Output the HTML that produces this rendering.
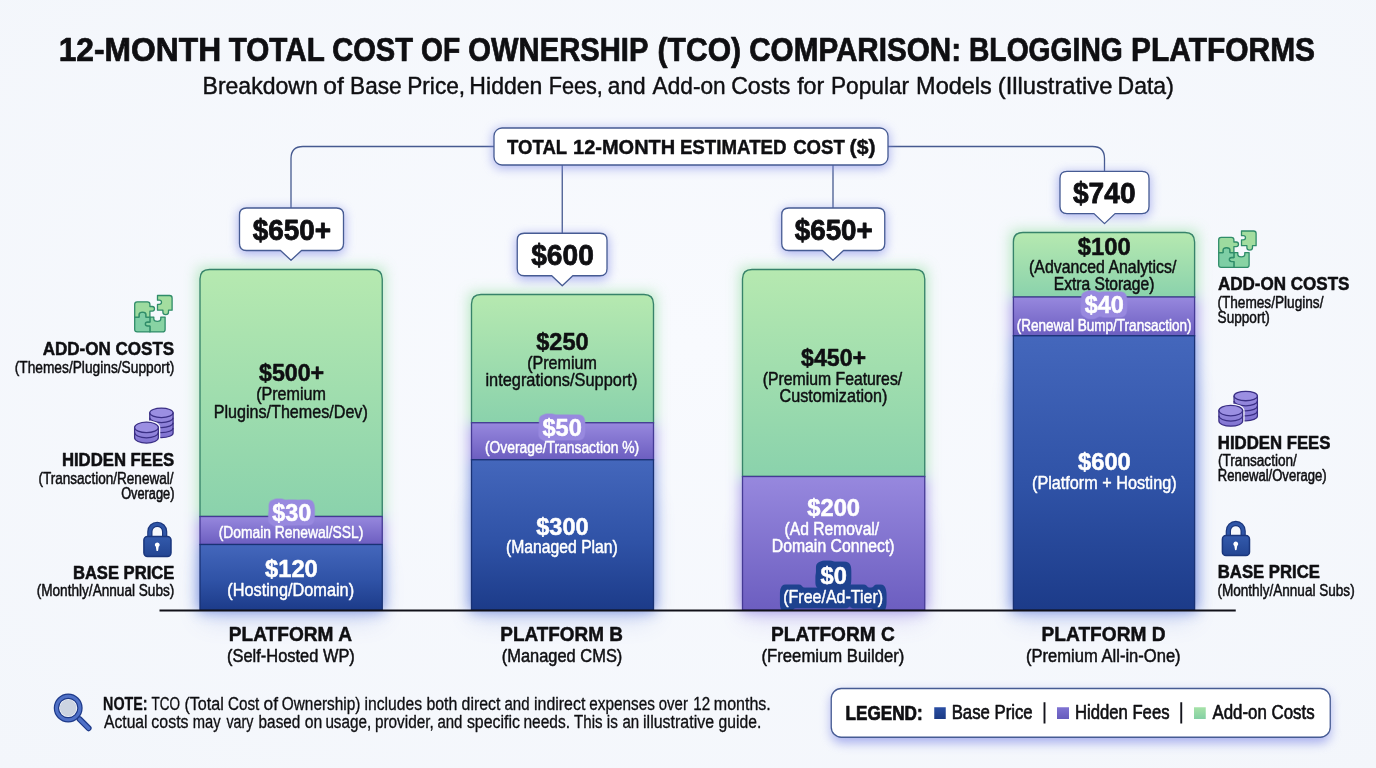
<!DOCTYPE html>
<html lang="en">
<head>
<meta charset="utf-8">
<title>12-Month Total Cost of Ownership (TCO) Comparison: Blogging Platforms</title>
<style>
html,body{margin:0;padding:0;background:#f5f7fb;}
body{width:1376px;height:768px;overflow:hidden;font-family:"Liberation Sans", sans-serif;}
svg{display:block;}
svg text{font-family:"Liberation Sans", sans-serif;white-space:pre;}
</style>
</head>
<body>
<svg width="1376" height="768" viewBox="0 0 1376 768">
<defs>
  <linearGradient id="gGreen" x1="0" y1="0" x2="0" y2="1">
    <stop offset="0" stop-color="#b6e9b0"/>
    <stop offset="1" stop-color="#8ad2ac"/>
  </linearGradient>
  <linearGradient id="gPurple" x1="0" y1="0" x2="0" y2="1">
    <stop offset="0" stop-color="#9788de"/>
    <stop offset="1" stop-color="#6c5ec0"/>
  </linearGradient>
  <linearGradient id="gBlue" x1="0" y1="0" x2="0" y2="1">
    <stop offset="0" stop-color="#4467bc"/>
    <stop offset="0.55" stop-color="#2f52a6"/>
    <stop offset="1" stop-color="#1c3b89"/>
  </linearGradient>
  <linearGradient id="gCoin" x1="0" y1="0" x2="0" y2="1">
    <stop offset="0" stop-color="#9a8ee0"/>
    <stop offset="1" stop-color="#7f72d0"/>
  </linearGradient>
  <linearGradient id="gLock" x1="0" y1="0" x2="0" y2="1">
    <stop offset="0" stop-color="#335aac"/>
    <stop offset="1" stop-color="#234592"/>
  </linearGradient>
  <linearGradient id="gSwB" x1="0" y1="0" x2="0" y2="1">
    <stop offset="0" stop-color="#2a4ea3"/><stop offset="1" stop-color="#1b3a84"/>
  </linearGradient>
  <linearGradient id="gSwP" x1="0" y1="0" x2="0" y2="1">
    <stop offset="0" stop-color="#7f73d2"/><stop offset="1" stop-color="#665bbc"/>
  </linearGradient>
  <linearGradient id="gSwG" x1="0" y1="0" x2="0" y2="1">
    <stop offset="0" stop-color="#a6e2a8"/><stop offset="1" stop-color="#84cfa4"/>
  </linearGradient>
  <radialGradient id="gBg" cx="0.5" cy="0.45" r="0.75">
    <stop offset="0" stop-color="#f8fafe"/>
    <stop offset="1" stop-color="#f3f6fb"/>
  </radialGradient>
  <clipPath id="clipC"><rect x="743" y="477" width="181.2" height="133.3"/></clipPath>
  <filter id="fGlow" x="-30%" y="-30%" width="160%" height="160%">
    <feGaussianBlur stdDeviation="7"/>
  </filter>
  <filter id="haloP" x="-30%" y="-40%" width="160%" height="180%" color-interpolation-filters="sRGB">
    <feMorphology in="SourceAlpha" operator="dilate" radius="3.6" result="d"/>
    <feGaussianBlur in="d" stdDeviation="1.6" result="b"/>
    <feComponentTransfer in="b" result="a"><feFuncA type="linear" slope="2.6" intercept="-0.7"/></feComponentTransfer>
    <feFlood flood-color="#9889df"/>
    <feComposite in2="a" operator="in" result="h"/>
    <feMerge><feMergeNode in="h"/><feMergeNode in="SourceGraphic"/></feMerge>
  </filter>
  <filter id="haloN" x="-30%" y="-50%" width="160%" height="200%" color-interpolation-filters="sRGB">
    <feMorphology in="SourceAlpha" operator="dilate" radius="4.6" result="d"/>
    <feGaussianBlur in="d" stdDeviation="1.5" result="b"/>
    <feComponentTransfer in="b" result="a"><feFuncA type="linear" slope="4" intercept="-1.3"/></feComponentTransfer>
    <feFlood flood-color="#1e428f"/>
    <feComposite in2="a" operator="in" result="h"/>
    <feMerge><feMergeNode in="h"/><feMergeNode in="SourceGraphic"/></feMerge>
  </filter>
  <filter id="fGlowWide" x="-40%" y="-40%" width="180%" height="180%">
    <feGaussianBlur stdDeviation="13"/>
  </filter>
  <filter id="fShadow" x="-30%" y="-60%" width="160%" height="240%">
    <feGaussianBlur stdDeviation="5.5"/>
  </filter>

  <!-- puzzle icon, local box 0..39 x 0..38 -->
  <g id="icoPuzzle" stroke="#2f8c69" stroke-width="1.3" stroke-linejoin="round">
    <!-- bottom-right -->
    <path fill="#88d3a3" d="M15.9 22.6 H19.8 V24.2 C19.8 25.8 21.2 26.8 23.3 26.8 C25.4 26.8 26.8 25.8 26.8 24.2 V22.6 H31.1 V34.9 Q31.1 37.4 28.6 37.4 H15.9 V31.7 H13.6 C12.2 31.7 11.3 30.8 11.3 29.6 C11.3 28.4 12.2 27.5 13.6 27.5 H15.9 Z"/>
    <!-- bottom-left -->
    <path fill="#7ecea5" d="M0.7 22.6 H5 V20 C5 18.5 6.4 17.6 8.5 17.6 C10.6 17.6 12 18.5 12 20 V22.6 H15.9 V27.5 H13.6 C12.2 27.5 11.3 28.4 11.3 29.6 C11.3 30.8 12.2 31.7 13.6 31.7 H15.9 V37.4 H3.2 Q0.7 37.4 0.7 34.9 Z"/>
    <!-- top-left -->
    <path fill="#9ddb9f" d="M3.2 7.3 H13.4 Q15.9 7.3 15.9 9.8 V12 H18.2 C19.6 12 20.5 13 20.5 14.3 C20.5 15.6 19.6 16.6 18.2 16.6 H15.9 V22.6 H12 V20 C12 18.5 10.6 17.6 8.5 17.6 C6.4 17.6 5 18.5 5 20 V22.6 H0.7 V9.8 Q0.7 7.3 3.2 7.3 Z"/>
    <!-- top-right (separate) -->
    <path fill="#a3dd9f" d="M23.5 1 H35.6 Q38.1 1 38.1 3.5 V15.7 H34.5 V17.8 C34.5 19.2 33.4 20.1 31.7 20.1 C30 20.1 28.9 19.2 28.9 17.8 V15.7 H23.5 V9.9 H25.2 C26.6 9.9 27.5 9 27.5 7.8 C27.5 6.6 26.6 5.7 25.2 5.7 H23.5 Z"/>
  </g>

  <!-- coins icon, local box 0..40 x 0..37 ; origin = (134.25,407.25) -->
  <g id="icoCoins" stroke="#3a2f85" stroke-width="1.3" stroke-linejoin="round">
    <!-- back stack -->
    <path fill="url(#gCoin)" d="M15.7 5.1 V25.9 A12.1 4.9 0 0 0 39.9 25.9 V5.1 Z"/>
    <path fill="none" d="M15.7 10.3 A12.1 4.9 0 0 0 39.9 10.3 M15.7 15.5 A12.1 4.9 0 0 0 39.9 15.5 M15.7 20.7 A12.1 4.9 0 0 0 39.9 20.7"/>
    <ellipse cx="27.8" cy="5.1" rx="12.1" ry="4.9" fill="#9b8fe2"/>
    <!-- front stack with light separation halo -->
    <path fill="#f5f7fb" stroke="#f5f7fb" stroke-width="4" d="M0 20.2 V31 A12.3 5.4 0 0 0 24.6 31 V20.2 A12.3 5.4 0 0 0 0 20.2 Z"/>
    <path fill="url(#gCoin)" d="M0 20.2 V31 A12.3 5.4 0 0 0 24.6 31 V20.2 Z"/>
    <path fill="none" d="M0 25.6 A12.3 5.4 0 0 0 24.6 25.6"/>
    <ellipse cx="12.3" cy="20.2" rx="12.3" ry="5.4" fill="#9b8fe2"/>
  </g>

  <!-- lock icon, origin=(143,521.5) ; box 0..28.7 x 0..35.5 -->
  <g id="icoLock">
    <path d="M6.85 15.5 V10.2 A7.4 7.4 0 0 1 21.65 10.2 V15.5" fill="none" stroke="#1a367c" stroke-width="5.3" stroke-linecap="butt"/>
    <path d="M6.85 15.5 V10.2 A7.4 7.4 0 0 1 21.65 10.2 V15.5" fill="none" stroke="#2f55a6" stroke-width="3.0" stroke-linecap="butt"/>
    <rect x="0.9" y="14.9" width="27.1" height="20" rx="3.6" fill="url(#gLock)" stroke="#1a367c" stroke-width="1.5"/>
    <path d="M14.27 20.9 a2.45 2.45 0 0 1 1.4 4.45 l-0.5 3.3 a0.9 0.9 0 0 1 -1.8 0 l-0.5 -3.3 a2.45 2.45 0 0 1 1.4 -4.45 Z" fill="#ffffff"/>
  </g>

  <!-- magnifier icon, origin=(53,693) -->
  <g id="icoMag">
    <path d="M26.6 26.2 L35.6 35.2" stroke="#1e3a8a" stroke-width="6.0" stroke-linecap="round" fill="none"/>
    <path d="M26.6 26.2 L35.6 35.2" stroke="#4f70c6" stroke-width="3.5" stroke-linecap="round" fill="none"/>
    <circle cx="15.2" cy="15" r="11.75" fill="#ffffff" stroke="#1e3a8a" stroke-width="5.4"/>
    <circle cx="15.2" cy="15" r="11.75" fill="none" stroke="#4f70c6" stroke-width="3.0"/>
    <circle cx="15.2" cy="15" r="8.4" fill="#ccd4e1"/>
  </g>
</defs>

<rect width="1376" height="768" fill="url(#gBg)"/>

<!-- ===== connectors ===== -->
<g fill="none" stroke="#465a90" stroke-width="1.3">
  <path d="M291 208 V158.5 Q291 146.5 303 146.5 H494"/>
  <path d="M888 146.5 H1092.5 Q1104.5 146.5 1104.5 158.5 V171.4"/>
  <path d="M562.25 165 V233.5"/>
  <path d="M833 165 V208"/>
</g>

<!-- ===== bar glows ===== -->
<g filter="url(#fGlow)" opacity="0.75">
  <rect x="198" y="268" width="186" height="249" fill="#9be0a8"/>
  <rect x="198" y="517" width="186" height="27" fill="#8c7be0"/>
  <rect x="198" y="544" width="186" height="67" fill="#5a78d8"/>

  <rect x="469.5" y="293" width="186" height="130" fill="#9be0a8"/>
  <rect x="469.5" y="423" width="186" height="37" fill="#8c7be0"/>
  <rect x="469.5" y="460" width="186" height="151" fill="#5a78d8"/>

  <rect x="740.5" y="268" width="186" height="209" fill="#9be0a8"/>
  <rect x="740.5" y="477" width="186" height="134" fill="#8c7be0"/>

  <rect x="1011" y="231" width="186.5" height="66" fill="#9be0a8"/>
  <rect x="1011" y="297" width="186.5" height="39" fill="#8c7be0"/>
  <rect x="1011" y="336" width="186.5" height="275" fill="#5a78d8"/>
</g>

<g filter="url(#fGlowWide)" opacity="0.30">
  <rect x="204" y="560" width="174" height="58" fill="#6a82dc"/>
  <rect x="475.5" y="500" width="174" height="118" fill="#6a82dc"/>
  <rect x="746.5" y="520" width="174" height="98" fill="#8c7be0"/>
  <rect x="1017.4" y="380" width="173" height="238" fill="#6a82dc"/>
</g>
<!-- ===== bars ===== -->
<!-- A -->
<g>
  <path d="M200 516.5 V279 Q200 269.5 209.5 269.5 H372.75 Q382.25 269.5 382.25 279 V516.5 Z" fill="url(#gGreen)" stroke="#37836a" stroke-width="1.35"/>
  <rect x="200" y="516.5" width="182.25" height="28" fill="url(#gPurple)" stroke="#453a95" stroke-width="1.3"/>
  <rect x="200" y="544.5" width="182.25" height="65.75" fill="url(#gBlue)" stroke="#193274" stroke-width="1.3"/>
</g>
<!-- B -->
<g>
  <path d="M471.5 422.75 V304 Q471.5 294.5 481 294.5 H644 Q653.5 294.5 653.5 304 V422.75 Z" fill="url(#gGreen)" stroke="#37836a" stroke-width="1.35"/>
  <rect x="471.5" y="422.75" width="182" height="37" fill="url(#gPurple)" stroke="#453a95" stroke-width="1.3"/>
  <rect x="471.5" y="459.75" width="182" height="150.5" fill="url(#gBlue)" stroke="#193274" stroke-width="1.3"/>
</g>
<!-- C -->
<g>
  <path d="M742.5 476.5 V279 Q742.5 269.5 752 269.5 H915.25 Q924.75 269.5 924.75 279 V476.5 Z" fill="url(#gGreen)" stroke="#37836a" stroke-width="1.35"/>
  <rect x="742.5" y="476.5" width="182.25" height="133.75" fill="url(#gPurple)" stroke="#453a95" stroke-width="1.3"/>
</g>
<!-- D -->
<g>
  <path d="M1013.4 297 V242 Q1013.4 232.5 1022.9 232.5 H1185.1 Q1194.6 232.5 1194.6 242 V297 Z" fill="url(#gGreen)" stroke="#37836a" stroke-width="1.35"/>
  <rect x="1013.4" y="297" width="181.2" height="38.75" fill="url(#gPurple)" stroke="#453a95" stroke-width="1.3"/>
  <rect x="1013.4" y="335.75" width="181.2" height="274.5" fill="url(#gBlue)" stroke="#193274" stroke-width="1.3"/>
</g>


<!-- ===== total box + callouts ===== -->
<g filter="url(#fShadow)" opacity="0.66" fill="#8089e6">
  <rect x="493" y="129" width="396" height="39" rx="8"/>
  <rect x="238.5" y="209" width="106" height="45" rx="7"/>
  <rect x="516.25" y="234.5" width="92" height="45" rx="7"/>
  <rect x="780.75" y="209" width="105" height="45" rx="7"/>
  <rect x="1058.5" y="172.5" width="91.5" height="44" rx="7"/>
  <rect x="831.25" y="692" width="499" height="51" rx="10"/>
</g>
<g fill="#ffffff" stroke="#465b93" stroke-width="1.3" stroke-linejoin="round">
  <rect x="494" y="128" width="394" height="37" rx="8"/>
  <path d="M246.5 208 H336.5 Q343.5 208 343.5 215 V243.5 Q343.5 250.5 336.5 250.5 H301.5 L291 260.3 L280.5 250.5 H246.5 Q239.5 250.5 239.5 243.5 V215 Q239.5 208 246.5 208 Z"/>
  <path d="M524.25 233.25 H600 Q607 233.25 607 240.25 V268.75 Q607 275.75 600 275.75 H572.75 L562.25 285.75 L551.75 275.75 H524.25 Q517.25 275.75 517.25 268.75 V240.25 Q517.25 233.25 524.25 233.25 Z"/>
  <path d="M788.75 208 H877.75 Q884.75 208 884.75 215 V243.5 Q884.75 250.5 877.75 250.5 H843.5 L833 260.3 L822.5 250.5 H788.75 Q781.75 250.5 781.75 243.5 V215 Q781.75 208 788.75 208 Z"/>
  <path d="M1067 171.4 H1142 Q1149 171.4 1149 178.4 V206.6 Q1149 213.6 1142 213.6 H1115 L1104.5 223.6 L1094 213.6 H1067 Q1060 213.6 1060 206.6 V178.4 Q1060 171.4 1067 171.4 Z"/>
  <rect x="831.25" y="688.5" width="499" height="48.75" rx="10"/>
</g>

<!-- legend swatches -->
<rect x="934.25" y="707.25" width="11.5" height="11.75" fill="url(#gSwB)"/>
<rect x="1057" y="707.25" width="12" height="11.75" fill="url(#gSwP)"/>
<rect x="1194" y="707.25" width="11.75" height="11.75" fill="url(#gSwG)"/>
<path d="M1044.5 702.25 V723.5 M1181.25 702.25 V723.5" stroke="#14141c" stroke-width="1.9"/>

<!-- ===== icons ===== -->
<use href="#icoPuzzle" x="134" y="294.5"/>
<use href="#icoPuzzle" x="1218" y="230"/>
<use href="#icoCoins" transform="translate(134.6 407.9) scale(0.965)"/>
<use href="#icoCoins" transform="translate(1218.9 391.1) scale(0.965)"/>
<use href="#icoLock" x="143" y="521.5"/>
<use href="#icoLock" x="1221.5" y="520.7"/>
<use href="#icoMag" x="53" y="693"/>

<!-- ===== text ===== -->
<g>
<text y="60.80" font-size="32.6" font-weight="700" fill="#0f0f12" stroke="#0f0f12" stroke-width="0.72" stroke-linejoin="round"><tspan x="58.69" textLength="162.44" lengthAdjust="spacingAndGlyphs">12-MONTH</tspan> <tspan x="228.71" textLength="95.56" lengthAdjust="spacingAndGlyphs">TOTAL</tspan> <tspan x="332.14" textLength="80.83" lengthAdjust="spacingAndGlyphs">COST</tspan> <tspan x="421.07" textLength="39.14" lengthAdjust="spacingAndGlyphs">OF</tspan> <tspan x="468.34" textLength="179.60" lengthAdjust="spacingAndGlyphs">OWNERSHIP</tspan> <tspan x="657.55" textLength="83.50" lengthAdjust="spacingAndGlyphs">(TCO)</tspan> <tspan x="749.21" textLength="211.94" lengthAdjust="spacingAndGlyphs">COMPARISON:</tspan> <tspan x="968.96" textLength="153.87" lengthAdjust="spacingAndGlyphs">BLOGGING</tspan> <tspan x="1131.05" textLength="184.05" lengthAdjust="spacingAndGlyphs">PLATFORMS</tspan></text>
<text y="93.50" font-size="24.3" font-weight="400" fill="#0f0f12" stroke="#0f0f12" stroke-width="0.44" stroke-linejoin="round"><tspan x="202.56" textLength="115.15" lengthAdjust="spacingAndGlyphs">Breakdown</tspan> <tspan x="323.32" textLength="20.53" lengthAdjust="spacingAndGlyphs">of</tspan> <tspan x="350.09" textLength="51.54" lengthAdjust="spacingAndGlyphs">Base</tspan> <tspan x="407.18" textLength="58.01" lengthAdjust="spacingAndGlyphs">Price,</tspan> <tspan x="469.36" textLength="73.05" lengthAdjust="spacingAndGlyphs">Hidden</tspan> <tspan x="548.67" textLength="54.24" lengthAdjust="spacingAndGlyphs">Fees,</tspan> <tspan x="607.79" textLength="37.90" lengthAdjust="spacingAndGlyphs">and</tspan> <tspan x="652.60" textLength="73.09" lengthAdjust="spacingAndGlyphs">Add-on</tspan> <tspan x="731.14" textLength="59.06" lengthAdjust="spacingAndGlyphs">Costs</tspan> <tspan x="797.17" textLength="27.13" lengthAdjust="spacingAndGlyphs">for</tspan> <tspan x="830.99" textLength="78.11" lengthAdjust="spacingAndGlyphs">Popular</tspan> <tspan x="916.12" textLength="75.70" lengthAdjust="spacingAndGlyphs">Models</tspan> <tspan x="997.78" textLength="114.60" lengthAdjust="spacingAndGlyphs">(Illustrative</tspan> <tspan x="1117.56" textLength="56.28" lengthAdjust="spacingAndGlyphs">Data)</tspan></text>
<text y="153.90" font-size="21.0" font-weight="700" fill="#0f0f12" stroke="#0f0f12" stroke-width="0.46" stroke-linejoin="round"><tspan x="507.02" textLength="59.76" lengthAdjust="spacingAndGlyphs">TOTAL</tspan> <tspan x="573.10" textLength="102.14" lengthAdjust="spacingAndGlyphs">12-MONTH</tspan> <tspan x="679.88" textLength="106.71" lengthAdjust="spacingAndGlyphs">ESTIMATED</tspan> <tspan x="793.15" textLength="51.75" lengthAdjust="spacingAndGlyphs">COST</tspan> <tspan x="849.64" textLength="25.98" lengthAdjust="spacingAndGlyphs">($)</tspan></text>
<text transform="translate(252.72 239.50) scale(0.9363 1)" font-size="29.8" font-weight="700" fill="#0f0f12" stroke="#0f0f12" stroke-width="0.85" stroke-linejoin="round">$650+</text>
<text transform="translate(531.22 264.50) scale(0.9435 1)" font-size="29.8" font-weight="700" fill="#0f0f12" stroke="#0f0f12" stroke-width="0.82" stroke-linejoin="round">$600</text>
<text transform="translate(794.72 239.50) scale(0.9333 1)" font-size="29.8" font-weight="700" fill="#0f0f12" stroke="#0f0f12" stroke-width="0.85" stroke-linejoin="round">$650+</text>
<text transform="translate(1072.97 202.50) scale(0.9435 1)" font-size="29.8" font-weight="700" fill="#0f0f12" stroke="#0f0f12" stroke-width="0.82" stroke-linejoin="round">$740</text>
<text transform="translate(258.97 381.00) scale(0.9926 1)" font-size="23.4" font-weight="700" fill="#0f0f12" stroke="#0f0f12" stroke-width="0.53" stroke-linejoin="round">$500+</text>
<text transform="translate(256.13 400.40) scale(0.9163 1)" font-size="17.6" font-weight="400" fill="#0f0f12" stroke="#0f0f12" stroke-width="0.46" stroke-linejoin="round">(Premium</text>
<text transform="translate(213.71 417.60) scale(0.9173 1)" font-size="17.6" font-weight="400" fill="#0f0f12" stroke="#0f0f12" stroke-width="0.46" stroke-linejoin="round">Plugins/Themes/Dev)</text>
<text transform="translate(272.27 521.00) scale(1.0010 1)" font-size="23.4" font-weight="700" fill="#ffffff" stroke="#ffffff" stroke-width="0.51" stroke-linejoin="round" filter="url(#haloP)">$30</text>
<text transform="translate(218.67 537.90) scale(0.8832 1)" font-size="15.7" font-weight="400" fill="#ffffff" stroke="#ffffff" stroke-width="0.47" stroke-linejoin="round">(Domain Renewal/SSL)</text>
<text transform="translate(264.96 576.50) scale(1.0162 1)" font-size="23.4" font-weight="700" fill="#ffffff" stroke="#ffffff" stroke-width="0.51" stroke-linejoin="round">$120</text>
<text transform="translate(227.27 595.50) scale(0.9269 1)" font-size="17.6" font-weight="400" fill="#ffffff" stroke="#ffffff" stroke-width="0.45" stroke-linejoin="round">(Hosting/Domain)</text>
<text transform="translate(536.26 350.40) scale(1.0083 1)" font-size="23.4" font-weight="700" fill="#0f0f12" stroke="#0f0f12" stroke-width="0.51" stroke-linejoin="round">$250</text>
<text transform="translate(527.14 368.75) scale(0.9136 1)" font-size="17.6" font-weight="400" fill="#0f0f12" stroke="#0f0f12" stroke-width="0.47" stroke-linejoin="round">(Premium</text>
<text transform="translate(485.44 386.00) scale(0.9304 1)" font-size="17.6" font-weight="400" fill="#0f0f12" stroke="#0f0f12" stroke-width="0.44" stroke-linejoin="round">integrations/Support)</text>
<text transform="translate(542.51 436.00) scale(1.0076 1)" font-size="23.4" font-weight="700" fill="#ffffff" stroke="#ffffff" stroke-width="0.51" stroke-linejoin="round" filter="url(#haloP)">$50</text>
<text transform="translate(484.92 453.40) scale(0.8832 1)" font-size="15.7" font-weight="400" fill="#ffffff" stroke="#ffffff" stroke-width="0.47" stroke-linejoin="round">(Overage/Transaction %)</text>
<text transform="translate(536.26 534.75) scale(1.0054 1)" font-size="23.4" font-weight="700" fill="#ffffff" stroke="#ffffff" stroke-width="0.51" stroke-linejoin="round">$300</text>
<text transform="translate(506.06 553.25) scale(0.8932 1)" font-size="17.6" font-weight="400" fill="#ffffff" stroke="#ffffff" stroke-width="0.50" stroke-linejoin="round">(Managed Plan)</text>
<text transform="translate(801.02 366.25) scale(0.9903 1)" font-size="23.4" font-weight="700" fill="#0f0f12" stroke="#0f0f12" stroke-width="0.54" stroke-linejoin="round">$450+</text>
<text transform="translate(762.80 384.60) scale(0.8968 1)" font-size="17.6" font-weight="400" fill="#0f0f12" stroke="#0f0f12" stroke-width="0.50" stroke-linejoin="round">(Premium Features/</text>
<text transform="translate(779.59 402.00) scale(0.9188 1)" font-size="17.6" font-weight="400" fill="#0f0f12" stroke="#0f0f12" stroke-width="0.46" stroke-linejoin="round">Customization)</text>
<text transform="translate(807.26 516.00) scale(1.0152 1)" font-size="23.4" font-weight="700" fill="#ffffff" stroke="#ffffff" stroke-width="0.51" stroke-linejoin="round">$200</text>
<text transform="translate(784.56 534.75) scale(0.8878 1)" font-size="17.6" font-weight="400" fill="#ffffff" stroke="#ffffff" stroke-width="0.51" stroke-linejoin="round">(Ad Removal/</text>
<text transform="translate(771.74 552.25) scale(0.8976 1)" font-size="17.6" font-weight="400" fill="#ffffff" stroke="#ffffff" stroke-width="0.50" stroke-linejoin="round">Domain Connect)</text>
<g clip-path="url(#clipC)"><text transform="translate(820.56 583.60) scale(1.0101 1)" font-size="23.4" font-weight="700" fill="#ffffff" stroke="#ffffff" stroke-width="0.51" stroke-linejoin="round" filter="url(#haloN)">$0</text></g>
<g clip-path="url(#clipC)"><text transform="translate(783.24 603.20) scale(0.9103 1)" font-size="17.6" font-weight="400" fill="#ffffff" stroke="#ffffff" stroke-width="0.47" stroke-linejoin="round" filter="url(#haloN)">(Free/Ad-Tier)</text></g>
<text transform="translate(1077.76 254.50) scale(1.0201 1)" font-size="23.4" font-weight="700" fill="#0f0f12" stroke="#0f0f12" stroke-width="0.51" stroke-linejoin="round">$100</text>
<text transform="translate(1029.05 273.25) scale(0.9019 1)" font-size="17.6" font-weight="400" fill="#0f0f12" stroke="#0f0f12" stroke-width="0.49" stroke-linejoin="round">(Advanced Analytics/</text>
<text transform="translate(1053.75 289.50) scale(0.8870 1)" font-size="17.6" font-weight="400" fill="#0f0f12" stroke="#0f0f12" stroke-width="0.52" stroke-linejoin="round">Extra Storage)</text>
<text transform="translate(1084.77 313.00) scale(1.0010 1)" font-size="23.4" font-weight="700" fill="#ffffff" stroke="#ffffff" stroke-width="0.51" stroke-linejoin="round" filter="url(#haloP)">$40</text>
<text transform="translate(1016.69 330.90) scale(0.8637 1)" font-size="15.7" font-weight="400" fill="#ffffff" stroke="#ffffff" stroke-width="0.50" stroke-linejoin="round">(Renewal Bump/Transaction)</text>
<text transform="translate(1078.01 470.25) scale(1.0152 1)" font-size="23.4" font-weight="700" fill="#ffffff" stroke="#ffffff" stroke-width="0.51" stroke-linejoin="round">$600</text>
<text transform="translate(1032.03 488.50) scale(0.9215 1)" font-size="17.6" font-weight="400" fill="#ffffff" stroke="#ffffff" stroke-width="0.45" stroke-linejoin="round">(Platform + Hosting)</text>
<text transform="translate(228.76 640.50) scale(0.9756 1)" font-size="19.6" font-weight="700" fill="#0f0f12" stroke="#0f0f12" stroke-width="0.48" stroke-linejoin="round">PLATFORM A</text>
<text transform="translate(227.01 661.75) scale(0.9036 1)" font-size="18.2" font-weight="400" fill="#0f0f12" stroke="#0f0f12" stroke-width="0.50" stroke-linejoin="round">(Self-Hosted WP)</text>
<text transform="translate(500.27 640.50) scale(0.9666 1)" font-size="19.6" font-weight="700" fill="#0f0f12" stroke="#0f0f12" stroke-width="0.50" stroke-linejoin="round">PLATFORM B</text>
<text transform="translate(501.76 661.75) scale(0.9040 1)" font-size="18.2" font-weight="400" fill="#0f0f12" stroke="#0f0f12" stroke-width="0.50" stroke-linejoin="round">(Managed CMS)</text>
<text transform="translate(771.01 640.50) scale(0.9744 1)" font-size="19.6" font-weight="700" fill="#0f0f12" stroke="#0f0f12" stroke-width="0.48" stroke-linejoin="round">PLATFORM C</text>
<text transform="translate(761.50 661.75) scale(0.9180 1)" font-size="18.2" font-weight="400" fill="#0f0f12" stroke="#0f0f12" stroke-width="0.48" stroke-linejoin="round">(Freemium Builder)</text>
<text transform="translate(1041.50 640.50) scale(0.9779 1)" font-size="19.6" font-weight="700" fill="#0f0f12" stroke="#0f0f12" stroke-width="0.47" stroke-linejoin="round">PLATFORM D</text>
<text transform="translate(1026.01 661.75) scale(0.9111 1)" font-size="18.2" font-weight="400" fill="#0f0f12" stroke="#0f0f12" stroke-width="0.49" stroke-linejoin="round">(Premium All-in-One)</text>
<text transform="translate(42.66 355.25) scale(0.9476 1)" font-size="18.0" font-weight="700" fill="#0f0f12" stroke="#0f0f12" stroke-width="0.49" stroke-linejoin="round">ADD-ON COSTS</text>
<text transform="translate(14.67 372.50) scale(0.8822 1)" font-size="15.6" font-weight="400" fill="#0f0f12" stroke="#0f0f12" stroke-width="0.46" stroke-linejoin="round">(Themes/Plugins/Support)</text>
<text transform="translate(61.91 465.75) scale(0.9293 1)" font-size="18.0" font-weight="700" fill="#0f0f12" stroke="#0f0f12" stroke-width="0.52" stroke-linejoin="round">HIDDEN FEES</text>
<text transform="translate(38.39 483.50) scale(0.8701 1)" font-size="15.6" font-weight="400" fill="#0f0f12" stroke="#0f0f12" stroke-width="0.48" stroke-linejoin="round">(Transaction/Renewal/</text>
<text transform="translate(121.17 499.00) scale(0.8199 1)" font-size="15.6" font-weight="400" fill="#0f0f12" stroke="#0f0f12" stroke-width="0.56" stroke-linejoin="round">Overage)</text>
<text transform="translate(72.92 579.00) scale(0.9220 1)" font-size="18.0" font-weight="700" fill="#0f0f12" stroke="#0f0f12" stroke-width="0.54" stroke-linejoin="round">BASE PRICE</text>
<text transform="translate(36.68 596.00) scale(0.8736 1)" font-size="15.6" font-weight="400" fill="#0f0f12" stroke="#0f0f12" stroke-width="0.48" stroke-linejoin="round">(Monthly/Annual Subs)</text>
<text transform="translate(1217.91 290.25) scale(0.9476 1)" font-size="18.0" font-weight="700" fill="#0f0f12" stroke="#0f0f12" stroke-width="0.49" stroke-linejoin="round">ADD-ON COSTS</text>
<text transform="translate(1217.38 308.40) scale(0.8749 1)" font-size="15.6" font-weight="400" fill="#0f0f12" stroke="#0f0f12" stroke-width="0.48" stroke-linejoin="round">(Themes/Plugins/</text>
<text transform="translate(1217.59 323.40) scale(0.8725 1)" font-size="15.6" font-weight="400" fill="#0f0f12" stroke="#0f0f12" stroke-width="0.48" stroke-linejoin="round">Support)</text>
<text transform="translate(1217.81 448.80) scale(0.9314 1)" font-size="18.0" font-weight="700" fill="#0f0f12" stroke="#0f0f12" stroke-width="0.52" stroke-linejoin="round">HIDDEN FEES</text>
<text transform="translate(1217.98 466.10) scale(0.8732 1)" font-size="15.6" font-weight="400" fill="#0f0f12" stroke="#0f0f12" stroke-width="0.48" stroke-linejoin="round">(Transaction/</text>
<text transform="translate(1217.75 481.10) scale(0.8381 1)" font-size="15.6" font-weight="400" fill="#0f0f12" stroke="#0f0f12" stroke-width="0.53" stroke-linejoin="round">Renewal/Overage)</text>
<text transform="translate(1217.81 578.00) scale(0.9280 1)" font-size="18.0" font-weight="700" fill="#0f0f12" stroke="#0f0f12" stroke-width="0.53" stroke-linejoin="round">BASE PRICE</text>
<text transform="translate(1217.44 595.50) scale(0.8703 1)" font-size="15.6" font-weight="400" fill="#0f0f12" stroke="#0f0f12" stroke-width="0.48" stroke-linejoin="round">(Monthly/Annual Subs)</text>
<text y="709.60" font-size="17.6" font-weight="400" fill="#0f0f12" stroke="#0f0f12" stroke-width="0.32" stroke-linejoin="round"><tspan x="103.07" textLength="44.46" lengthAdjust="spacingAndGlyphs" font-weight="700">NOTE:</tspan> <tspan x="151.43" textLength="28.52" lengthAdjust="spacingAndGlyphs">TCO</tspan> <tspan x="184.43" textLength="39.47" lengthAdjust="spacingAndGlyphs">(Total</tspan> <tspan x="227.94" textLength="31.30" lengthAdjust="spacingAndGlyphs">Cost</tspan> <tspan x="263.61" textLength="14.46" lengthAdjust="spacingAndGlyphs">of</tspan> <tspan x="281.81" textLength="78.58" lengthAdjust="spacingAndGlyphs">Ownership)</tspan> <tspan x="364.58" textLength="57.47" lengthAdjust="spacingAndGlyphs">includes</tspan> <tspan x="426.45" textLength="30.93" lengthAdjust="spacingAndGlyphs">both</tspan> <tspan x="461.57" textLength="38.78" lengthAdjust="spacingAndGlyphs">direct</tspan> <tspan x="504.50" textLength="25.02" lengthAdjust="spacingAndGlyphs">and</tspan> <tspan x="534.07" textLength="51.28" lengthAdjust="spacingAndGlyphs">indirect</tspan> <tspan x="589.29" textLength="65.55" lengthAdjust="spacingAndGlyphs">expenses</tspan> <tspan x="658.80" textLength="29.09" lengthAdjust="spacingAndGlyphs">over</tspan> <tspan x="693.36" textLength="16.83" lengthAdjust="spacingAndGlyphs">12</tspan> <tspan x="713.86" textLength="56.95" lengthAdjust="spacingAndGlyphs">months.</tspan></text>
<text y="727.80" font-size="17.6" font-weight="400" fill="#0f0f12" stroke="#0f0f12" stroke-width="0.32" stroke-linejoin="round"><tspan x="104.00" textLength="43.57" lengthAdjust="spacingAndGlyphs">Actual</tspan> <tspan x="151.36" textLength="37.20" lengthAdjust="spacingAndGlyphs">costs</tspan> <tspan x="192.84" textLength="27.86" lengthAdjust="spacingAndGlyphs">may</tspan> <tspan x="226.50" textLength="26.90" lengthAdjust="spacingAndGlyphs">vary</tspan> <tspan x="258.58" textLength="41.76" lengthAdjust="spacingAndGlyphs">based</tspan> <tspan x="304.67" textLength="17.55" lengthAdjust="spacingAndGlyphs">on</tspan> <tspan x="325.38" textLength="45.86" lengthAdjust="spacingAndGlyphs">usage,</tspan> <tspan x="374.88" textLength="58.87" lengthAdjust="spacingAndGlyphs">provider,</tspan> <tspan x="437.40" textLength="25.02" lengthAdjust="spacingAndGlyphs">and</tspan> <tspan x="466.90" textLength="53.10" lengthAdjust="spacingAndGlyphs">specific</tspan> <tspan x="523.49" textLength="46.47" lengthAdjust="spacingAndGlyphs">needs.</tspan> <tspan x="574.10" textLength="28.43" lengthAdjust="spacingAndGlyphs">This</tspan> <tspan x="606.81" textLength="11.03" lengthAdjust="spacingAndGlyphs">is</tspan> <tspan x="622.50" textLength="16.72" lengthAdjust="spacingAndGlyphs">an</tspan> <tspan x="643.06" textLength="71.00" lengthAdjust="spacingAndGlyphs">illustrative</tspan> <tspan x="718.57" textLength="42.70" lengthAdjust="spacingAndGlyphs">guide.</tspan></text>
<text transform="translate(845.48 719.75) scale(0.8677 1)" font-size="19.8" font-weight="700" fill="#0f0f12" stroke="#0f0f12" stroke-width="0.70" stroke-linejoin="round">LEGEND:</text>
<text transform="translate(951.66 719.40) scale(0.8594 1)" font-size="19.5" font-weight="400" fill="#0f0f12" stroke="#0f0f12" stroke-width="0.63" stroke-linejoin="round">Base Price</text>
<text transform="translate(1074.91 719.40) scale(0.8563 1)" font-size="19.5" font-weight="400" fill="#0f0f12" stroke="#0f0f12" stroke-width="0.63" stroke-linejoin="round">Hidden Fees</text>
<text transform="translate(1212.50 719.40) scale(0.8641 1)" font-size="19.5" font-weight="400" fill="#0f0f12" stroke="#0f0f12" stroke-width="0.62" stroke-linejoin="round">Add-on Costs</text>
</g>
<!-- axis -->
<path d="M159.5 610.4 H1235.75" stroke="#111118" stroke-width="2" fill="none"/>
</svg>

</body>
</html>
